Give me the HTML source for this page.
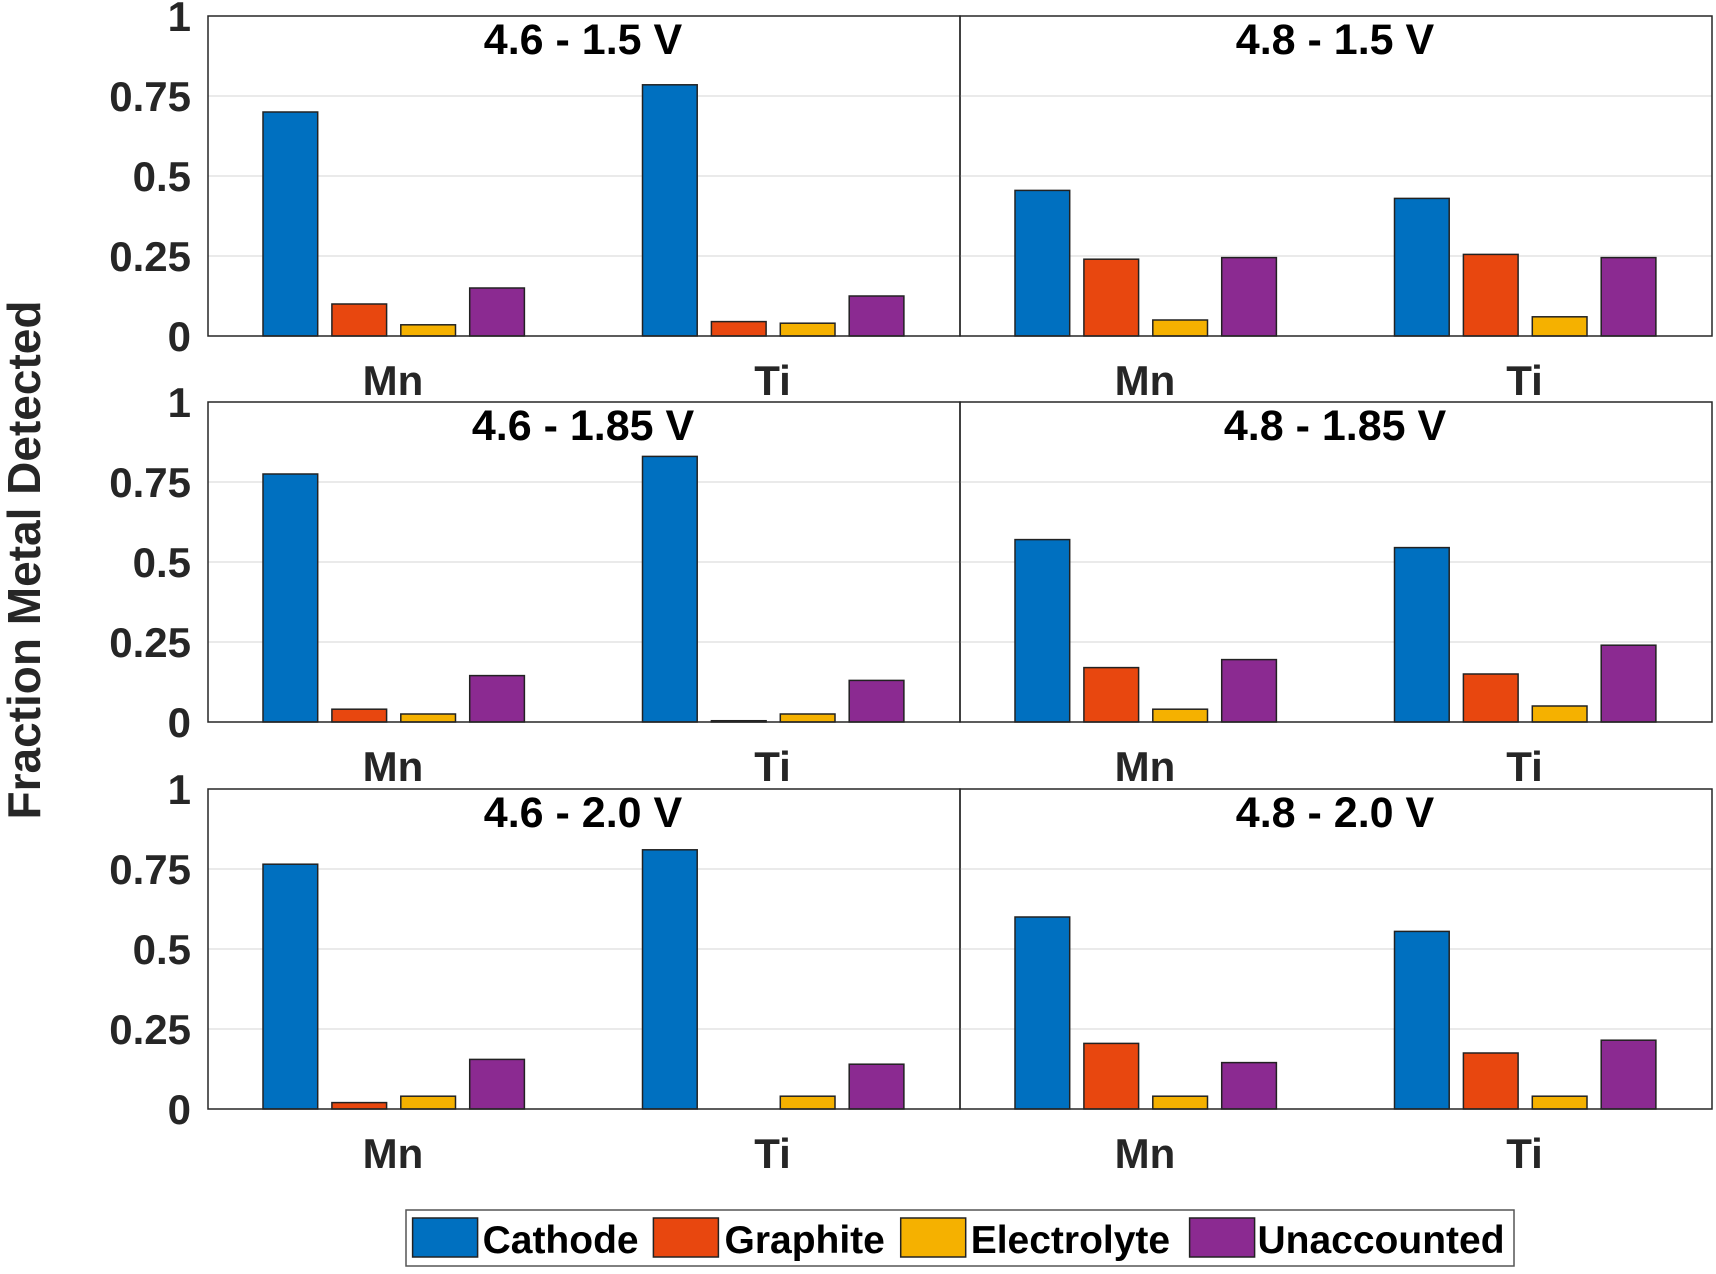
<!DOCTYPE html>
<html><head><meta charset="utf-8"><style>
body{margin:0;background:#fff}
svg{display:block}
text{font-family:"Liberation Sans",Arial,sans-serif;font-weight:bold;fill:#262626}
</style></head><body>
<svg id="s" width="1716" height="1274" viewBox="0 0 1716 1274" xmlns="http://www.w3.org/2000/svg"></svg>
<script>
const s=document.getElementById('s');
const cols=['#0070C0','#E8470F','#F5B100','#8B2A91'];
const data=[
 ['4.6 - 1.5 V',[.70,.10,.035,.15],[.785,.045,.04,.125]],
 ['4.8 - 1.5 V',[.455,.24,.05,.245],[.43,.255,.06,.245]],
 ['4.6 - 1.85 V',[.775,.04,.025,.145],[.83,.004,.025,.13]],
 ['4.8 - 1.85 V',[.57,.17,.04,.195],[.545,.15,.05,.24]],
 ['4.6 - 2.0 V',[.765,.02,.04,.155],[.81,0,.04,.14]],
 ['4.8 - 2.0 V',[.60,.205,.04,.145],[.555,.175,.04,.215]]
];
let h='';
const tops=[16,402,789], H=320, W=752, lefts=[208,960];
data.forEach((d,i)=>{
 const r=Math.floor(i/2),c=i%2,x0=lefts[c],y0=tops[r],yb=y0+H;
 [0.25,0.5,0.75].forEach(v=>{const y=yb-v*H;h+=`<line x1="${x0}" x2="${x0+W}" y1="${y}" y2="${y}" stroke="#e3e3e3" stroke-width="1.5"/>`;});
 [d[1],d[2]].forEach((g,gi)=>{
  const gx=x0+(gi?434.5:55);
  g.forEach((v,k)=>{const bh=v*H;h+=`<rect x="${gx+k*68.9}" y="${yb-bh}" width="54.7" height="${bh}" fill="${cols[k]}" stroke="#222" stroke-width="1.5"/>`;});
  h+=`<text x="${gx+130}" y="${yb+59}" font-size="42" text-anchor="middle">${gi?'Ti':'Mn'}</text>`;
 });
 h+=`<rect x="${x0}" y="${y0}" width="${W}" height="${H}" fill="none" stroke="#262626" stroke-width="1.5"/>`;
 h+=`<text x="${x0+375}" y="${y0+38}" font-size="43" text-anchor="middle" style="fill:#000">${d[0]}</text>`;
 if(c==0){[[0,'0'],[.25,'0.25'],[.5,'0.5'],[.75,'0.75'],[1,'1']].forEach(([v,t])=>{h+=`<text x="191" y="${yb-v*H+15}" font-size="42" text-anchor="end">${t}</text>`;});}
});
h+=`<text transform="translate(40,560) rotate(-90)" font-size="46" text-anchor="middle">Fraction Metal Detected</text>`;
h+=`<rect x="406" y="1210" width="1108" height="56" fill="#fff" stroke="#555" stroke-width="1.5"/>`;
[[412.6,482.6,'Cathode'],[653.4,724.5,'Graphite'],[900.7,970.7,'Electrolyte'],[1189.6,1257.5,'Unaccounted']].forEach(([px,tx,t],k)=>{
 h+=`<rect x="${px}" y="1218" width="65" height="39" fill="${cols[k]}" stroke="#222" stroke-width="1.5"/>`;
 h+=`<text x="${tx}" y="1253" font-size="39" style="fill:#000">${t}</text>`;
});
s.innerHTML=h;
</script>
</body></html>
